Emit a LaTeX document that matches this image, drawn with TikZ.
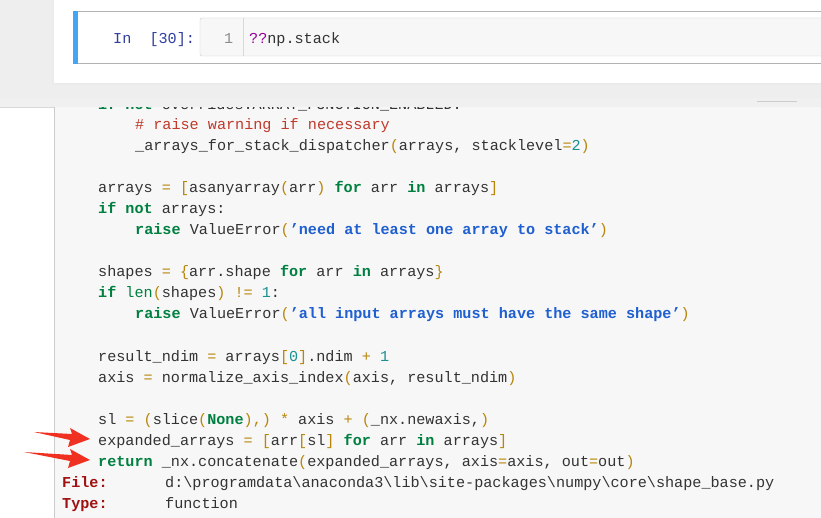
\documentclass[tikz,border=0pt]{standalone}
\usepackage{fontspec}
\setmonofont{Liberation Mono}
\setmainfont{Liberation Mono}
\definecolor{bgg}{HTML}{EEEEEE}
\definecolor{codebg}{HTML}{F7F7F7}
\definecolor{txt}{HTML}{333333}
\definecolor{kwc}{HTML}{008040}
\definecolor{stc}{HTML}{1F5FD0}
\definecolor{opc}{HTML}{B8860B}
\definecolor{nmc}{HTML}{1A9090}
\definecolor{cmc}{HTML}{C0392B}
\definecolor{filec}{HTML}{A01010}
\definecolor{promptc}{HTML}{303F9F}
\definecolor{barc}{HTML}{42A5F5}
\definecolor{arrc}{HTML}{F03020}
\newcommand{\kw}[1]{\textcolor{kwc}{\textbf{#1}}}
\newcommand{\bi}[1]{\textcolor{kwc}{#1}}
\newcommand{\st}[1]{\textcolor{stc}{\textbf{#1}}}
\newcommand{\op}[1]{\textcolor{opc}{#1}}
\newcommand{\nm}[1]{\textcolor{nmc}{#1}}
\newcommand{\cm}[1]{\textcolor{cmc}{#1}}
\begin{document}
\begin{tikzpicture}[x=1pt,y=-1pt,
  code/.style={anchor=base west,inner sep=0pt,font=\fontsize{15.15}{18}\selectfont,text=txt}]
\useasboundingbox (0,0) rectangle (821,518);
\fill[white] (0,0) rectangle (821,518);
% top area
\fill[bgg] (0,0) rectangle (821,98);
\fill[black!8] (52,0) rectangle (821,85);
\fill[white] (54,0) rectangle (821,83);
\draw[black!30] (78,11.5) -- (821,11.5);
\draw[black!30] (78,63.5) -- (821,63.5);
\fill[barc] (73,11) rectangle (78,64);
\filldraw[fill=codebg,draw=black!20,rounded corners=2pt] (200,18) rectangle (830,56);
\draw[black!15] (243,18) -- (243,56);
\node[code,text=promptc] (prompt) at (113,44) {In\ \ [30]:};
\node[code,text=black!45] (ln) at (224,44) {1};
\node[code] (inp) at (249,44) {\textcolor{violet!80!magenta}{??}np.stack};
% separator band
\fill[black!6] (0,98) rectangle (821,107);
\draw[black!15] (0,107) -- (821,107);
\draw[black!20] (757,101) -- (797,101);
% output area
\fill[codebg] (54,107.5) rectangle (821,518);
\draw[black!20] (54.5,107) -- (54.5,518);
\begin{scope}
\clip (54,107.5) rectangle (821,518);
\node[code] (l0) at (98,110) {\kw{if not} overrides.ARRAY\_FUNCTION\_ENABLED:};
\end{scope}
\node[code] (l1) at (135,130) {\cm{\# raise warning if necessary}};
\node[code] (l2) at (135,151) {\_arrays\_for\_stack\_dispatcher\op{(}arrays, stacklevel\op{=}\nm{2}\op{)}};
\node[code] (l3) at (98,193) {arrays \op{=} \op{[}asanyarray\op{(}arr\op{)} \kw{for} arr \kw{in} arrays\op{]}};
\node[code] (l4) at (98,214) {\kw{if not} arrays:};
\node[code] (l5) at (135,235) {\kw{raise} ValueError\op{(}\st{’need at least one array to stack’}\op{)}};
\node[code] (l6) at (98,277) {shapes \op{=} \op{\{}arr.shape \kw{for} arr \kw{in} arrays\op{\}}};
\node[code] (l7) at (98,298) {\kw{if} \bi{len}\op{(}shapes\op{)} \op{!=} \nm{1}:};
\node[code] (l8) at (135,319) {\kw{raise} ValueError\op{(}\st{’all input arrays must have the same shape’}\op{)}};
\node[code] (l9) at (98,361) {result\_ndim \op{=} arrays\op{[}\nm{0}\op{]}.ndim \op{+} \nm{1}};
\node[code] (l10) at (98,382) {axis \op{=} normalize\_axis\_index\op{(}axis, result\_ndim\op{)}};
\node[code] (l11) at (98,424) {sl \op{=} \op{(}slice\op{(}\kw{None}\op{),)} \op{*} axis \op{+} \op{(}\_nx.newaxis,\op{)}};
\node[code] (l12) at (98,445) {expanded\_arrays \op{=} \op{[}arr\op{[}sl\op{]} \kw{for} arr \kw{in} arrays\op{]}};
\node[code] (l13) at (98,466) {\kw{return} \_nx.concatenate\op{(}expanded\_arrays, axis\op{=}axis, out\op{=}out\op{)}};
\node[code,text=filec] (f1) at (62,487) {\textbf{File:}};
\node[code] (f2) at (165,487) {d:\textbackslash programdata\textbackslash anaconda3\textbackslash lib\textbackslash site-packages\textbackslash numpy\textbackslash core\textbackslash shape\_base.py};
\node[code,text=filec] (t1) at (62,508) {\textbf{Type:}};
\node[code] (t2) at (165,508) {function};
% arrows
\coordinate (a1) at (34,432);
\coordinate (a2) at (24,452);
\fill[arrc] (a1) -- (72,434) -- (70,428) -- (90,439) -- (68,447) -- (70,440) -- cycle;
\fill[arrc] (a2) -- (72,455) -- (70,449) -- (90,460) -- (68,468) -- (70,461) -- cycle;
\end{tikzpicture}
\end{document}
